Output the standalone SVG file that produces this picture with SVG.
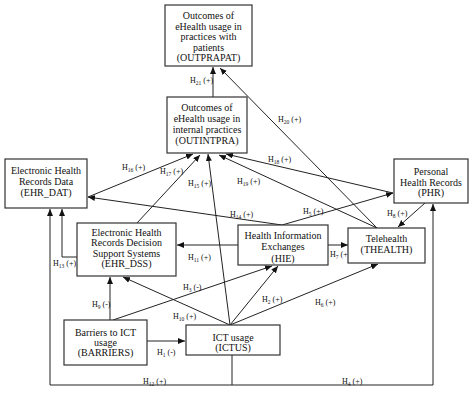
<svg xmlns="http://www.w3.org/2000/svg" width="474" height="420" viewBox="0 0 474 420">
<style>
.box{fill:#fff;stroke:#333;stroke-width:1.2}
.nt{font-family:"Liberation Serif","Times New Roman",serif;font-size:10px;fill:#111;text-anchor:middle}
.lb{font-family:"Liberation Serif","Times New Roman",serif;font-size:8px;fill:#111}
.sub{font-size:5.5px}
.c{fill:none;stroke:#222;stroke-width:1}
</style>
<defs>
<marker id="ah" markerUnits="userSpaceOnUse" markerWidth="8" markerHeight="7" refX="7" refY="3" orient="auto">
<path d="M0,0 L7,3 L0,6 z" fill="#111"/>
</marker>
</defs>
<rect width="474" height="420" fill="#fff"/>
<g id="connectors">
<line class="c" x1="213" y1="97" x2="213" y2="67" marker-end="url(#ah)"/>
<line class="c" x1="377" y1="228" x2="220" y2="68" marker-end="url(#ah)"/>
<line class="c" x1="377" y1="228" x2="219" y2="155" marker-end="url(#ah)"/>
<line class="c" x1="393" y1="193" x2="226" y2="154" marker-end="url(#ah)"/>
<line class="c" x1="282" y1="225" x2="393" y2="193" marker-end="url(#ah)"/>
<line class="c" x1="282" y1="225" x2="88" y2="197" marker-end="url(#ah)"/>
<line class="c" x1="88" y1="197" x2="193" y2="154" marker-end="url(#ah)"/>
<line class="c" x1="137" y1="223" x2="200" y2="155" marker-end="url(#ah)"/>
<line class="c" x1="230" y1="325" x2="208" y2="154" marker-end="url(#ah)"/>
<line class="c" x1="425" y1="203" x2="398" y2="227" marker-end="url(#ah)"/>
<line class="c" x1="238" y1="245" x2="177" y2="245" marker-end="url(#ah)"/>
<line class="c" x1="328" y1="245" x2="348" y2="245" marker-end="url(#ah)"/>
<polyline class="c" points="77,257 62,257 62,209" marker-end="url(#ah)"/>
<polyline class="c" points="232,355 232,385 50,385 50,209" marker-end="url(#ah)"/>
<polyline class="c" points="232,385 433,385 433,204" marker-end="url(#ah)"/>
<line class="c" x1="110" y1="320" x2="110" y2="277" marker-end="url(#ah)"/>
<line class="c" x1="113" y1="320" x2="272" y2="266" marker-end="url(#ah)"/>
<line class="c" x1="230" y1="325" x2="123" y2="277" marker-end="url(#ah)"/>
<line class="c" x1="230" y1="325" x2="278" y2="266" marker-end="url(#ah)"/>
<line class="c" x1="230" y1="325" x2="378" y2="264" marker-end="url(#ah)"/>
<line class="c" x1="147" y1="341" x2="185" y2="341" marker-end="url(#ah)"/>
</g>
<g id="labels">
<text class="lb" x="190" y="83">H<tspan class="sub" dy="1.5">21</tspan><tspan dy="-1.5"> (+)</tspan></text>
<text class="lb" x="278" y="122">H<tspan class="sub" dy="1.5">20</tspan><tspan dy="-1.5"> (+)</tspan></text>
<text class="lb" x="268" y="162">H<tspan class="sub" dy="1.5">18</tspan><tspan dy="-1.5"> (+)</tspan></text>
<text class="lb" x="237" y="184">H<tspan class="sub" dy="1.5">19</tspan><tspan dy="-1.5"> (+)</tspan></text>
<text class="lb" x="188" y="186">H<tspan class="sub" dy="1.5">15</tspan><tspan dy="-1.5"> (+)</tspan></text>
<text class="lb" x="160" y="174">H<tspan class="sub" dy="1.5">17</tspan><tspan dy="-1.5"> (+)</tspan></text>
<text class="lb" x="122" y="170">H<tspan class="sub" dy="1.5">16</tspan><tspan dy="-1.5"> (+)</tspan></text>
<text class="lb" x="230" y="217">H<tspan class="sub" dy="1.5">14</tspan><tspan dy="-1.5"> (+)</tspan></text>
<text class="lb" x="303" y="214">H<tspan class="sub" dy="1.5">5</tspan><tspan dy="-1.5"> (+)</tspan></text>
<text class="lb" x="387" y="216">H<tspan class="sub" dy="1.5">8</tspan><tspan dy="-1.5"> (+)</tspan></text>
<text class="lb" x="188" y="260">H<tspan class="sub" dy="1.5">11</tspan><tspan dy="-1.5"> (+)</tspan></text>
<text class="lb" x="330" y="257">H<tspan class="sub" dy="1.5">7</tspan><tspan dy="-1.5"> (+)</tspan></text>
<text class="lb" x="53" y="266">H<tspan class="sub" dy="1.5">13</tspan><tspan dy="-1.5"> (+)</tspan></text>
<text class="lb" x="92" y="307">H<tspan class="sub" dy="1.5">9</tspan><tspan dy="-1.5"> (-)</tspan></text>
<text class="lb" x="183" y="290">H<tspan class="sub" dy="1.5">3</tspan><tspan dy="-1.5"> (-)</tspan></text>
<text class="lb" x="173" y="319">H<tspan class="sub" dy="1.5">10</tspan><tspan dy="-1.5"> (+)</tspan></text>
<text class="lb" x="262" y="302">H<tspan class="sub" dy="1.5">2</tspan><tspan dy="-1.5"> (+)</tspan></text>
<text class="lb" x="315" y="305">H<tspan class="sub" dy="1.5">6</tspan><tspan dy="-1.5"> (+)</tspan></text>
<text class="lb" x="157" y="355">H<tspan class="sub" dy="1.5">1</tspan><tspan dy="-1.5"> (-)</tspan></text>
<text class="lb" x="143" y="384">H<tspan class="sub" dy="1.5">12</tspan><tspan dy="-1.5"> (+)</tspan></text>
<text class="lb" x="342" y="384">H<tspan class="sub" dy="1.5">4</tspan><tspan dy="-1.5"> (+)</tspan></text>
</g>
<g id="OUTPRAPAT">
<rect class="box" x="165" y="5" width="87" height="61"/>
<text class="nt" x="208.5" y="19">Outcomes of</text>
<text class="nt" x="208.5" y="29.5">eHealth usage in</text>
<text class="nt" x="208.5" y="40">practices with</text>
<text class="nt" x="208.5" y="50.5">patients</text>
<text class="nt" x="208.5" y="61">(OUTPRAPAT)</text>
</g>
<g id="OUTINTPRA">
<rect class="box" x="167" y="97" width="80" height="56"/>
<text class="nt" x="207" y="110.5">Outcomes of</text>
<text class="nt" x="207" y="121.5">eHealth usage in</text>
<text class="nt" x="207" y="132.5">internal practices</text>
<text class="nt" x="207" y="143.5">(OUTINTPRA)</text>
</g>
<g id="EHR_DAT">
<rect class="box" x="5" y="159" width="82" height="49"/>
<text class="nt" x="46" y="173.5">Electronic Health</text>
<text class="nt" x="46" y="184.5">Records  Data</text>
<text class="nt" x="46" y="195.5">(EHR_DAT)</text>
</g>
<g id="PHR">
<rect class="box" x="394" y="159" width="74" height="44"/>
<text class="nt" x="431" y="175">Personal</text>
<text class="nt" x="431" y="185.5">Health Records</text>
<text class="nt" x="431" y="196">(PHR)</text>
</g>
<g id="EHR_DSS">
<rect class="box" x="77" y="223" width="99" height="53"/>
<text class="nt" x="126.5" y="235.5">Electronic Health</text>
<text class="nt" x="126.5" y="246">Records  Decision</text>
<text class="nt" x="126.5" y="256.5">Support Systems</text>
<text class="nt" x="126.5" y="267">(EHR_DSS)</text>
</g>
<g id="HIE">
<rect class="box" x="238" y="225" width="90" height="40"/>
<text class="nt" x="283" y="238.5">Health Information</text>
<text class="nt" x="283" y="250">Exchanges</text>
<text class="nt" x="283" y="261.5">(HIE)</text>
</g>
<g id="THEALTH">
<rect class="box" x="348" y="228" width="77" height="35"/>
<text class="nt" x="386.5" y="241.5">Telehealth</text>
<text class="nt" x="386.5" y="252.5">(THEALTH)</text>
</g>
<g id="BARRIERS">
<rect class="box" x="64" y="320" width="83" height="45"/>
<text class="nt" x="105.5" y="335.5">Barriers to ICT</text>
<text class="nt" x="105.5" y="345.5">usage</text>
<text class="nt" x="105.5" y="355.5">(BARRIERS)</text>
</g>
<g id="ICTUS">
<rect class="box" x="186" y="325" width="94" height="30"/>
<text class="nt" x="233" y="340.5">ICT usage</text>
<text class="nt" x="233" y="350.5">(ICTUS)</text>
</g>
</svg>
